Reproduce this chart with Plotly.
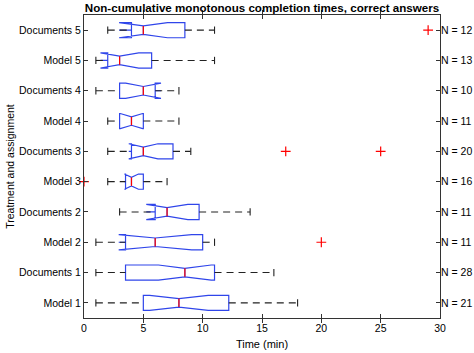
import math
import plotly.graph_objects as go

# ---- data (bottom to top) ----
labels = ["Model 1", "Documents 1", "Model 2", "Documents 2", "Model 3",
          "Documents 3", "Model 4", "Documents 4", "Model 5", "Documents 5"]
n_counts = [21, 28, 11, 11, 16, 20, 11, 10, 13, 12]
whisk_lo = [1, 1, 1, 3, 2, 2, 2, 1, 1, 2]
q1 = [5.0, 3.5, 3.5, 6.0, 3.5, 4.0, 3.0, 3.0, 2.0, 4.0]
median = [8.0, 8.5, 6.0, 7.0, 4.0, 5.0, 4.0, 5.0, 3.0, 5.0]
q3 = [12.2, 11.0, 10.0, 9.7, 5.0, 7.5, 5.0, 6.0, 5.7, 8.5]
whisk_hi = [18, 16, 11, 14, 7, 9, 8, 8, 11, 11]
outliers = {2: [20], 4: [0], 5: [17, 25], 9: [29]}

x_ticks = [0, 5, 10, 15, 20, 25, 30]

pos = list(range(len(labels)))
notchspan = [1.57 * (b - a) / math.sqrt(n) for a, b, n in zip(q1, q3, n_counts)]

BOXW = 0.5
NOTCHW = 0.22
CAP = 0.12
MEDH = BOXW / 2 * (1 - 2 * NOTCHW)

fig = go.Figure()

fig.add_trace(go.Box(
    orientation="h", y=pos, q1=q1, median=median, q3=q3,
    lowerfence=q1, upperfence=q3, notchspan=notchspan,
    notched=True, notchwidth=NOTCHW, width=BOXW, whiskerwidth=0,
    boxpoints=False, line=dict(color="#2f45ea", width=1.2),
    fillcolor="rgba(0,0,0,0)", hoverinfo="skip", showlegend=False))

# dashed whiskers
wx, wy = [], []
for p, lo, a, b, hi in zip(pos, whisk_lo, q1, q3, whisk_hi):
    wx += [lo, a, None, b, hi, None]
    wy += [p, p, None, p, p, None]
fig.add_trace(go.Scatter(x=wx, y=wy, mode="lines",
                         line=dict(color="#222", width=1.1, dash="7px,5px"),
                         hoverinfo="skip", showlegend=False))
# caps
cx, cy = [], []
for p, lo, hi in zip(pos, whisk_lo, whisk_hi):
    cx += [lo, lo, None, hi, hi, None]
    cy += [p - CAP, p + CAP, None, p - CAP, p + CAP, None]
fig.add_trace(go.Scatter(x=cx, y=cy, mode="lines",
                         line=dict(color="#222", width=1.1),
                         hoverinfo="skip", showlegend=False))
# medians
mx, my = [], []
for p, m in zip(pos, median):
    mx += [m, m, None]
    my += [p - MEDH, p + MEDH, None]
fig.add_trace(go.Scatter(x=mx, y=my, mode="lines",
                         line=dict(color="red", width=1.2),
                         hoverinfo="skip", showlegend=False))
# outliers
ox, oy = [], []
for p, vals in outliers.items():
    for v in vals:
        ox.append(v)
        oy.append(p)
fig.add_trace(go.Scatter(x=ox, y=oy, mode="markers",
                         marker=dict(symbol="cross-thin", size=7,
                                     line=dict(color="red", width=1.2)),
                         cliponaxis=False, hoverinfo="skip", showlegend=False))
# right axis holder
fig.add_trace(go.Scatter(x=[None], y=[None], yaxis="y2", showlegend=False,
                         hoverinfo="skip"))

FONT = "Liberation Sans, Arial, sans-serif"
fig.update_layout(
    width=474, height=353,
    margin=dict(l=84, r=34, t=15, b=35),
    paper_bgcolor="white", plot_bgcolor="white",
    font=dict(family=FONT, size=10.5, color="black"),
    boxmode="overlay",
    title=dict(text="<b>Non-cumulative monotonous completion times, correct answers</b>",
               font=dict(size=11.6, family=FONT, color="black"),
               x=0.5, xref="paper", xanchor="center",
               y=1 - 8 / 353, yref="container", yanchor="middle",
               automargin=False),
    xaxis=dict(range=[0, 30], tickvals=x_ticks, ticks="inside", ticklen=4,
               showgrid=False, zeroline=False, showline=True, mirror="allticks",
               linecolor="#333", linewidth=1, tickcolor="#333", automargin=False,
               title=dict(text="Time (min)", standoff=7, font=dict(size=11))),
    yaxis=dict(range=[-0.5, 9.5], tickvals=pos, ticktext=labels,
               ticks="inside", ticklen=4, showgrid=False, zeroline=False,
               showline=True, mirror="allticks", linecolor="#333", linewidth=1,
               tickcolor="#333", automargin=False,
               title=dict(text="Treatment and assignment", standoff=2,
                          font=dict(size=10.5))),
    yaxis2=dict(range=[-0.5, 9.5], tickvals=pos,
                ticktext=[f"N = {n}" for n in n_counts],
                overlaying="y", side="right", showgrid=False, zeroline=False,
                showline=False, ticks="", automargin=False),
)

fig.write_html("out.html")
